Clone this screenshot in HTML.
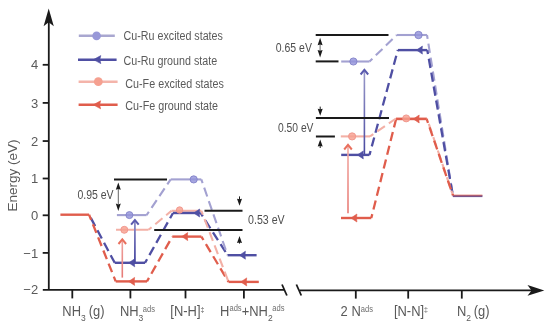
<!DOCTYPE html>
<html><head><meta charset="utf-8"><title>Energy diagram</title>
<style>
html,body{margin:0;padding:0;background:#fff;}
body{width:550px;height:326px;overflow:hidden;}
svg{display:block;}
</style></head>
<body>
<svg width="550" height="326" viewBox="0 0 550 326">
<rect width="550" height="326" fill="#fff"/>
<g stroke="#1a1a1a" stroke-width="1.8" fill="none">
<line x1="48.8" y1="290" x2="48.8" y2="20"/>
<line x1="42.8" y1="289.8" x2="284.8" y2="289.8"/>
<line x1="299.4" y1="290.4" x2="532" y2="290.4"/>
<line x1="282" y1="284.5" x2="286.9" y2="295.5"/>
<line x1="296.4" y1="284.5" x2="301.3" y2="295.5"/>
<line x1="42.7" y1="64.8" x2="48.8" y2="64.8"/>
<line x1="42.7" y1="102.9" x2="48.8" y2="102.9"/>
<line x1="42.7" y1="141.05" x2="48.8" y2="141.05"/>
<line x1="42.7" y1="178.5" x2="48.8" y2="178.5"/>
<line x1="42.7" y1="215.3" x2="48.8" y2="215.3"/>
<line x1="42.7" y1="252.9" x2="48.8" y2="252.9"/>
<line x1="72.3" y1="289.8" x2="72.3" y2="298.4"/>
<line x1="130.4" y1="289.8" x2="130.4" y2="298.4"/>
<line x1="185.5" y1="289.8" x2="185.5" y2="298.4"/>
<line x1="243.9" y1="289.8" x2="243.9" y2="298.4"/>
<line x1="355.8" y1="290.4" x2="355.8" y2="298.6"/>
<line x1="408.2" y1="290.4" x2="408.2" y2="298.6"/>
<line x1="461.8" y1="290.4" x2="461.8" y2="298.6"/>
</g>
<path d="M48.7,8.6 L53.8,26.2 L48.7,22.2 L43.6,26.2 Z" fill="#1a1a1a"/>
<path d="M544.3,290.4 L527.5,285.1 L531.5,290.4 L527.5,295.7 Z" fill="#1a1a1a"/>
<g font-family='"Liberation Sans", sans-serif' fill="#5a5a5a">
<text x="38.2" y="69.39999999999999" font-size="13" text-anchor="end" >4</text>
<text x="38.2" y="107.5" font-size="13" text-anchor="end" >3</text>
<text x="38.2" y="145.65" font-size="13" text-anchor="end" >2</text>
<text x="38.2" y="183.1" font-size="13" text-anchor="end" >1</text>
<text x="38.2" y="219.9" font-size="13" text-anchor="end" >0</text>
<text x="38.2" y="257.5" font-size="13" text-anchor="end" >−1</text>
<text x="38.2" y="294.1" font-size="13" text-anchor="end" >−2</text>
<text transform="translate(17,211.6) rotate(-90)" font-size="13" textLength="72" lengthAdjust="spacingAndGlyphs">Energy (eV)</text>
<text transform="translate(62.3,316.0) scale(0.925,1)" font-size="14">NH<tspan font-size="9.2" dy="4.6">3</tspan><tspan dy="-4.6" dx="-0.6"> (g)</tspan></text>
<text transform="translate(119.9,316.0) scale(0.925,1)" font-size="14">NH<tspan font-size="9.2" dy="4.6">3</tspan><tspan font-size="8.2" fill="#6e6e6e" dy="-9.1" dx="-0.6">ads</tspan></text>
<text transform="translate(170.3,316.0) scale(0.925,1)" font-size="14">[N-H]<tspan font-size="7.5" dy="-4.2">‡</tspan></text>
<text transform="translate(220.1,316.0) scale(0.925,1)" font-size="14">H<tspan font-size="8.2" fill="#6e6e6e" dy="-4.6">ads</tspan><tspan dy="4.6">+NH</tspan><tspan font-size="9.2" dy="4.6">2</tspan><tspan font-size="8.2" fill="#6e6e6e" dy="-9.2" dx="-0.3">ads</tspan></text>
<text transform="translate(340.6,316.0) scale(0.925,1)" font-size="14">2 N<tspan font-size="8.2" fill="#6e6e6e" dy="-4.4">ads</tspan></text>
<text transform="translate(393.9,316.0) scale(0.925,1)" font-size="14">[N-N]<tspan font-size="7.5" dy="-4.2">‡</tspan></text>
<text transform="translate(456.9,316.0) scale(0.925,1)" font-size="14">N<tspan font-size="9.2" dy="4.6">2</tspan><tspan dy="-4.6" dx="-1.0"> (g)</tspan></text>
<text x="123.6" y="39.9" font-size="12" textLength="99.3" lengthAdjust="spacingAndGlyphs">Cu-Ru excited states</text>
<text x="123.6" y="65" font-size="12" textLength="93.6" lengthAdjust="spacingAndGlyphs">Cu-Ru ground state</text>
<text x="125.3" y="88.2" font-size="12" textLength="98.6" lengthAdjust="spacingAndGlyphs">Cu-Fe excited states</text>
<text x="125.3" y="109.9" font-size="12" textLength="92.8" lengthAdjust="spacingAndGlyphs">Cu-Fe ground state</text>
<text x="77.4" y="198.7" font-size="12.3" textLength="36.2" lengthAdjust="spacingAndGlyphs" fill="#4e4e4e">0.95 eV</text>
<text x="248.1" y="224.1" font-size="12.3" textLength="36.6" lengthAdjust="spacingAndGlyphs" fill="#4e4e4e">0.53 eV</text>
<text x="275.8" y="52.4" font-size="12.3" textLength="36.1" lengthAdjust="spacingAndGlyphs" fill="#4e4e4e">0.65 eV</text>
<text x="278.0" y="131.8" font-size="12.3" textLength="35.5" lengthAdjust="spacingAndGlyphs" fill="#4e4e4e">0.50 eV</text>
</g>
<line x1="78.8" y1="35.8" x2="114.8" y2="35.8" stroke="#a9a7d0" stroke-width="2.4" />
<circle cx="96.6" cy="35.9" r="4.3" fill="#9898d8"/>
<line x1="78.0" y1="59.7" x2="116.6" y2="59.7" stroke="#4f4fa3" stroke-width="2.4" />
<path d="M93.5,59.6 L100.8,55.6 L99.8,59.6 L100.8,63.6 Z" fill="#4f4fa3" stroke="#4f4fa3" stroke-width="0.6" stroke-linejoin="round"/>
<line x1="78.6" y1="81.7" x2="117.6" y2="81.7" stroke="#f4b4aa" stroke-width="2.4" />
<circle cx="98.3" cy="81.7" r="4.4" fill="#f5a090"/>
<line x1="78.6" y1="104.8" x2="117.6" y2="104.8" stroke="#e05d4c" stroke-width="2.4" />
<path d="M93.3,104.8 L100.6,100.8 L99.6,104.8 L100.6,108.8 Z" fill="#e05d4c" stroke="#e05d4c" stroke-width="0.6" stroke-linejoin="round"/>
<line x1="89.1" y1="214.7" x2="114.7" y2="262.8" stroke="#4f4fa3" stroke-width="2.3" stroke-dasharray="9.3 4.8" stroke-dashoffset="10.5"/>
<line x1="145.1" y1="262.8" x2="173.0" y2="213.0" stroke="#4f4fa3" stroke-width="2.3" stroke-dasharray="9.3 4.8" stroke-dashoffset="5.3"/>
<line x1="200.6" y1="213.0" x2="227.6" y2="255.2" stroke="#4f4fa3" stroke-width="2.3" stroke-dasharray="9.3 4.8" stroke-dashoffset="5.3"/>
<line x1="89.1" y1="214.7" x2="115.7" y2="281.4" stroke="#e05d4c" stroke-width="2.3" stroke-dasharray="9.3 4.8" stroke-dashoffset="3.8"/>
<line x1="147.0" y1="281.4" x2="172.3" y2="236.6" stroke="#e05d4c" stroke-width="2.3" stroke-dasharray="9.3 4.8" stroke-dashoffset="5.3"/>
<line x1="201.4" y1="236.6" x2="228.5" y2="281.9" stroke="#e05d4c" stroke-width="2.3" stroke-dasharray="9.3 4.8" stroke-dashoffset="5.3"/>
<line x1="146.6" y1="215.1" x2="170.7" y2="179.4" stroke="#a3a1d1" stroke-width="2.1" stroke-dasharray="9.3 4.8" stroke-dashoffset="5.3"/>
<line x1="201.3" y1="179.4" x2="227.6" y2="255.2" stroke="#a3a1d1" stroke-width="2.1" stroke-dasharray="9.3 4.8" stroke-dashoffset="5.3"/>
<line x1="148.5" y1="229.8" x2="171.5" y2="210.8" stroke="#f3b0a6" stroke-width="2.1" stroke-dasharray="9.3 4.8" stroke-dashoffset="5.3"/>
<line x1="201.4" y1="210.8" x2="228.5" y2="281.9" stroke="#f3b0a6" stroke-width="2.1" stroke-dasharray="9.3 4.8" stroke-dashoffset="5.3"/>
<line x1="60.4" y1="214.7" x2="89.1" y2="214.7" stroke="#e05d4c" stroke-width="2.4" />
<line x1="116.9" y1="215.1" x2="146.6" y2="215.1" stroke="#a3a1d1" stroke-width="2.1" />
<line x1="116.0" y1="229.8" x2="148.5" y2="229.8" stroke="#f3b0a6" stroke-width="2.1" />
<line x1="114.7" y1="262.8" x2="145.1" y2="262.8" stroke="#4f4fa3" stroke-width="2.4" />
<line x1="115.7" y1="281.4" x2="147.0" y2="281.4" stroke="#e05d4c" stroke-width="2.4" />
<path d="M128.8,262.8 L134.7,258.8 L134.29999999999998,262.8 L134.7,266.8 Z" fill="#4f4fa3" stroke="#4f4fa3" stroke-width="0.6" stroke-linejoin="round"/>
<path d="M128.70000000000002,281.4 L134.6,277.4 L134.2,281.4 L134.6,285.4 Z" fill="#e05d4c" stroke="#e05d4c" stroke-width="0.6" stroke-linejoin="round"/>
<linearGradient id="g1" gradientUnits="userSpaceOnUse" x1="134.9" y1="262.0" x2="134.9" y2="219.4"><stop offset="0" stop-color="#4646a0"/><stop offset="1" stop-color="#9090c8"/></linearGradient>
<line x1="134.9" y1="262.0" x2="134.9" y2="220.20000000000002" stroke="url(#g1)" stroke-width="1.8"/>
<polyline points="131.1,224.6 134.9,220.0 138.70000000000002,224.6" fill="none" stroke="#5a5aae" stroke-width="2.0" stroke-linejoin="miter"/>
<linearGradient id="g2" gradientUnits="userSpaceOnUse" x1="122.3" y1="277.6" x2="122.3" y2="238.8"><stop offset="0" stop-color="#e67a76"/><stop offset="1" stop-color="#f0a4a0"/></linearGradient>
<line x1="122.3" y1="277.6" x2="122.3" y2="239.60000000000002" stroke="url(#g2)" stroke-width="1.6"/>
<polyline points="118.5,244.0 122.3,239.4 126.1,244.0" fill="none" stroke="#e9705e" stroke-width="2.0" stroke-linejoin="miter"/>
<circle cx="129.4" cy="215.1" r="3.5" fill="#9494da" fill-opacity="0.82" stroke="#8282c8" stroke-width="0.9"/>
<circle cx="124.3" cy="229.8" r="3.5" fill="#f6a090" fill-opacity="0.82" stroke="#f0948a" stroke-width="0.9"/>
<line x1="170.7" y1="179.4" x2="201.3" y2="179.4" stroke="#a3a1d1" stroke-width="2.1" />
<line x1="171.5" y1="210.8" x2="201.4" y2="210.8" stroke="#f3b0a6" stroke-width="2.1" />
<line x1="173.0" y1="213.0" x2="200.6" y2="213.0" stroke="#4f4fa3" stroke-width="2.4" />
<line x1="172.3" y1="236.6" x2="201.4" y2="236.6" stroke="#e05d4c" stroke-width="2.4" />
<path d="M193.70000000000002,213.0 L199.6,209.0 L199.2,213.0 L199.6,217.0 Z" fill="#4f4fa3" stroke="#4f4fa3" stroke-width="0.6" stroke-linejoin="round"/>
<path d="M181.8,236.6 L187.7,232.6 L187.29999999999998,236.6 L187.7,240.6 Z" fill="#e05d4c" stroke="#e05d4c" stroke-width="0.6" stroke-linejoin="round"/>
<circle cx="193.7" cy="179.4" r="3.6" fill="#9494da" fill-opacity="0.82" stroke="#8282c8" stroke-width="0.9"/>
<circle cx="179.6" cy="210.0" r="3.2" fill="#f6a090" fill-opacity="0.82" stroke="#f0948a" stroke-width="0.9"/>
<line x1="227.6" y1="255.2" x2="256.6" y2="255.2" stroke="#4f4fa3" stroke-width="2.4" />
<line x1="228.5" y1="281.9" x2="258.8" y2="281.9" stroke="#e05d4c" stroke-width="2.4" />
<path d="M239.5,255.2 L245.39999999999998,251.2 L244.99999999999997,255.2 L245.39999999999998,259.2 Z" fill="#4f4fa3" stroke="#4f4fa3" stroke-width="0.6" stroke-linejoin="round"/>
<path d="M240.8,281.9 L246.7,277.9 L246.29999999999998,281.9 L246.7,285.9 Z" fill="#e05d4c" stroke="#e05d4c" stroke-width="0.6" stroke-linejoin="round"/>
<line x1="369.5" y1="154.9" x2="397.8" y2="50.1" stroke="#4f4fa3" stroke-width="2.3" stroke-dasharray="9.3 4.8" stroke-dashoffset="5.3"/>
<line x1="371.3" y1="218.0" x2="396.1" y2="119.0" stroke="#e05d4c" stroke-width="2.3" stroke-dasharray="9.3 4.8" stroke-dashoffset="5.3"/>
<line x1="369.5" y1="61.5" x2="396.8" y2="35.0" stroke="#a3a1d1" stroke-width="2.1" stroke-dasharray="9.3 4.8" stroke-dashoffset="5.3"/>
<line x1="370.0" y1="136.4" x2="396.0" y2="118.5" stroke="#f3b0a6" stroke-width="2.1" stroke-dasharray="9.3 4.8" stroke-dashoffset="5.3"/>
<line x1="427.0" y1="35.0" x2="453.0" y2="196.2" stroke="#a3a1d1" stroke-width="2.1" stroke-dasharray="9.3 4.8" stroke-dashoffset="5.3"/>
<line x1="427.3" y1="50.1" x2="453.0" y2="196.2" stroke="#4f4fa3" stroke-width="2.3" stroke-dasharray="9.3 4.8" stroke-dashoffset="5.3"/>
<line x1="427.0" y1="118.5" x2="453.0" y2="195.4" stroke="#f3b0a6" stroke-width="2.1" stroke-dasharray="9.3 4.8" stroke-dashoffset="8.5"/>
<line x1="426.7" y1="119.0" x2="453.0" y2="195.4" stroke="#e05d4c" stroke-width="2.3" stroke-dasharray="9.3 4.8" stroke-dashoffset="5.3"/>
<line x1="341.2" y1="61.5" x2="369.5" y2="61.5" stroke="#a3a1d1" stroke-width="2.1" />
<line x1="340.8" y1="136.4" x2="370.0" y2="136.4" stroke="#f3b0a6" stroke-width="2.1" />
<line x1="341.2" y1="154.9" x2="369.5" y2="154.9" stroke="#4f4fa3" stroke-width="2.4" />
<line x1="341.0" y1="218.0" x2="371.3" y2="218.0" stroke="#e05d4c" stroke-width="2.4" />
<path d="M357.40000000000003,154.9 L363.3,150.9 L362.90000000000003,154.9 L363.3,158.9 Z" fill="#4f4fa3" stroke="#4f4fa3" stroke-width="0.6" stroke-linejoin="round"/>
<path d="M351.0,218.0 L356.9,214.0 L356.5,218.0 L356.9,222.0 Z" fill="#e05d4c" stroke="#e05d4c" stroke-width="0.6" stroke-linejoin="round"/>
<linearGradient id="g3" gradientUnits="userSpaceOnUse" x1="364.4" y1="154.0" x2="364.4" y2="69.3"><stop offset="0" stop-color="#4848a0"/><stop offset="1" stop-color="#9c9ccb"/></linearGradient>
<line x1="364.4" y1="154.0" x2="364.4" y2="70.1" stroke="url(#g3)" stroke-width="1.6"/>
<polyline points="360.59999999999997,74.5 364.4,69.89999999999999 368.2,74.5" fill="none" stroke="#5a5aae" stroke-width="2.0" stroke-linejoin="miter"/>
<linearGradient id="g4" gradientUnits="userSpaceOnUse" x1="348.0" y1="213.2" x2="348.0" y2="144.3"><stop offset="0" stop-color="#e87a74"/><stop offset="1" stop-color="#f2aca6"/></linearGradient>
<line x1="348.0" y1="213.2" x2="348.0" y2="145.10000000000002" stroke="url(#g4)" stroke-width="1.6"/>
<polyline points="344.2,149.5 348.0,144.9 351.8,149.5" fill="none" stroke="#e9705e" stroke-width="2.0" stroke-linejoin="miter"/>
<circle cx="353.4" cy="61.5" r="3.6" fill="#9494da" fill-opacity="0.82" stroke="#8282c8" stroke-width="0.9"/>
<circle cx="352.1" cy="136.4" r="3.6" fill="#f6a090" fill-opacity="0.82" stroke="#f0948a" stroke-width="0.9"/>
<line x1="396.8" y1="35.0" x2="427.0" y2="35.0" stroke="#a3a1d1" stroke-width="2.1" />
<line x1="397.8" y1="50.1" x2="427.3" y2="50.1" stroke="#4f4fa3" stroke-width="2.4" />
<line x1="396.0" y1="118.5" x2="427.0" y2="118.5" stroke="#f3b0a6" stroke-width="2.1" />
<line x1="396.1" y1="119.0" x2="426.7" y2="119.0" stroke="#e05d4c" stroke-width="2.4" />
<path d="M416.5,50.1 L422.4,46.1 L422.0,50.1 L422.4,54.1 Z" fill="#4f4fa3" stroke="#4f4fa3" stroke-width="0.6" stroke-linejoin="round"/>
<path d="M413.3,119.0 L419.2,115.0 L418.8,119.0 L419.2,123.0 Z" fill="#e05d4c" stroke="#e05d4c" stroke-width="0.6" stroke-linejoin="round"/>
<circle cx="418.5" cy="35.0" r="3.6999999999999997" fill="#9494da" fill-opacity="0.82" stroke="#8282c8" stroke-width="0.9"/>
<circle cx="406.2" cy="118.4" r="3.5" fill="#f6a090" fill-opacity="0.82" stroke="#f0948a" stroke-width="0.9"/>
<line x1="452.8" y1="196.1" x2="482.4" y2="196.1" stroke="#4f4fa3" stroke-width="2.0" />
<line x1="452.8" y1="195.5" x2="482.4" y2="195.5" stroke="#e05d4c" stroke-width="2.0" stroke-opacity="0.6"/>
<line x1="114.0" y1="179.4" x2="167.0" y2="179.4" stroke="#1a1a1a" stroke-width="2.0" />
<line x1="154.2" y1="230.1" x2="242.5" y2="230.1" stroke="#1a1a1a" stroke-width="2.0" />
<line x1="204.5" y1="210.8" x2="242.5" y2="210.8" stroke="#1a1a1a" stroke-width="2.0" />
<line x1="315.7" y1="35.1" x2="388.5" y2="35.1" stroke="#1a1a1a" stroke-width="2.0" />
<line x1="315.7" y1="61.4" x2="338.5" y2="61.4" stroke="#1a1a1a" stroke-width="2.0" />
<line x1="315.9" y1="118.0" x2="389.0" y2="118.0" stroke="#1a1a1a" stroke-width="2.0" />
<line x1="315.9" y1="136.5" x2="334.9" y2="136.5" stroke="#1a1a1a" stroke-width="2.0" />
<line x1="118.3" y1="188.8" x2="118.3" y2="204.6" stroke="#555" stroke-width="0.9" />
<path d="M118.3,182.4 L115.8,189.8 L118.3,189.0 L120.8,189.8 Z" fill="#1a1a1a"/>
<path d="M118.3,211.0 L115.8,203.6 L118.3,204.4 L120.8,203.6 Z" fill="#1a1a1a"/>
<line x1="320.1" y1="44.2" x2="320.1" y2="51.0" stroke="#555" stroke-width="0.9" />
<path d="M320.1,37.800000000000004 L317.6,45.2 L320.1,44.400000000000006 L322.6,45.2 Z" fill="#1a1a1a"/>
<path d="M320.1,57.4 L317.6,50.0 L320.1,50.8 L322.6,50.0 Z" fill="#1a1a1a"/>
<line x1="239.5" y1="196.4" x2="239.5" y2="199.8" stroke="#1a1a1a" stroke-width="1.0" />
<path d="M239.5,205.8 L237.0,198.8 L239.5,199.3 L242.0,198.8 Z" fill="#1a1a1a"/>
<line x1="239.5" y1="243.6" x2="239.5" y2="242.0" stroke="#1a1a1a" stroke-width="1.0" />
<path d="M239.5,236.0 L237.0,243.0 L239.5,242.5 L242.0,243.0 Z" fill="#1a1a1a"/>
<line x1="320.2" y1="106.6" x2="320.2" y2="109.8" stroke="#1a1a1a" stroke-width="1.0" />
<path d="M320.2,115.8 L317.7,108.8 L320.2,109.3 L322.7,108.8 Z" fill="#1a1a1a"/>
<line x1="320.2" y1="148.0" x2="320.2" y2="145.6" stroke="#1a1a1a" stroke-width="1.0" />
<path d="M320.2,139.6 L317.7,146.6 L320.2,146.1 L322.7,146.6 Z" fill="#1a1a1a"/>
</svg>
</body></html>
